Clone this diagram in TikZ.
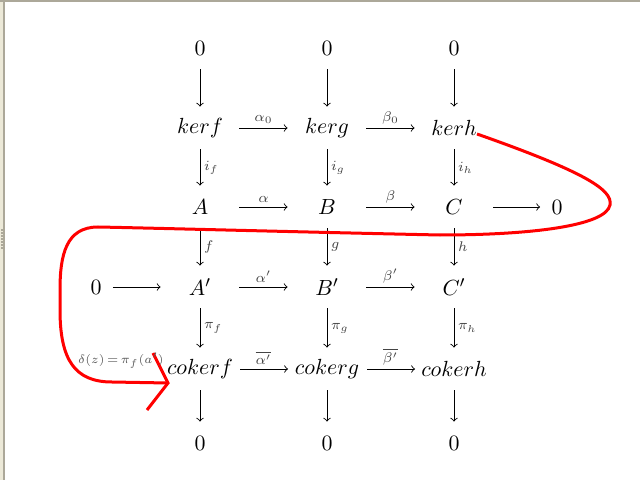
\documentclass[tikz,border=0pt]{standalone}
\definecolor{framebeige}{HTML}{ECE9D8}
\definecolor{framegray}{HTML}{ACA899}
\definecolor{labgray}{HTML}{444444}
\begin{document}
\begin{tikzpicture}[x=0.5pt,y=-0.5pt,
  obj/.style={minimum width=39pt,minimum height=21pt,inner sep=0pt,font=\fontsize{11.3}{13}\selectfont},
  zero/.style={obj,minimum width=16.5pt},
  map/.style={->,line width=0.45pt},
  cmap/.style={map,shorten <=20pt,shorten >=19.5pt},
  lab/.style={font=\scriptsize,text=labgray,inner sep=1.8pt},
  deltapath/.style={draw=red,line width=1.5pt,line join=miter},
  deltalab/.style={font=\fontsize{6.2}{7}\selectfont,text=black!65,inner sep=0pt}
]
\fill[white] (0,0) rectangle (640,480);
\useasboundingbox (0,0) rectangle (640,480);
% window frame
\fill[framebeige] (0,0) rectangle (3,480);
\fill[framegray] (3,0) rectangle (4.5,480);
\fill[framegray] (0,0) rectangle (640,2);
\foreach \yy in {229,232,...,249} \fill[framegray] (0.8,\yy) rectangle (2.6,\yy+1.6);

% row 0
\node[obj] (t1) at (200,48) {$0$};
\node[obj] (t2) at (327,48) {$0$};
\node[obj] (t3) at (454,48) {$0$};
% row 1
\node[obj] (kf) at (200,128) {$kerf$};
\node[obj] (kg) at (327,128) {$kerg$};
\node[obj] (kh) at (454,128) {$kerh$};
% row 2
\node[obj] (A) at (200,207) {$A$};
\node[obj] (B) at (327,207) {$B$};
\node[obj] (C) at (454,207) {$C$};
\node[zero] (zr) at (557,207) {$0$};
% row 3
\node[zero] (zl) at (96,287) {$0$};
\node[obj] (Ap) at (200,287) {$A'$};
\node[obj] (Bp) at (327,287) {$B'$};
\node[obj] (Cp) at (454,287) {$C'$};
% row 4
\node[obj] (cf) at (200,369) {$cokerf$};
\node[obj] (cg) at (327,369) {$cokerg$};
\node[obj] (ch) at (454,369) {$cokerh$};
% row 5
\node[obj] (b1) at (200,443) {$0$};
\node[obj] (b2) at (327,443) {$0$};
\node[obj] (b3) at (454,443) {$0$};

% vertical maps
\draw[map] (t1) -- (kf);
\draw[map] (t2) -- (kg);
\draw[map] (t3) -- (kh);
\draw[map] (kf) -- node[lab,right]{$i_f$} (A);
\draw[map] (kg) -- node[lab,right]{$i_g$} (B);
\draw[map] (kh) -- node[lab,right]{$i_h$} (C);
\draw[map] (A) -- node[lab,right]{$f$} (Ap);
\draw[map] (B) -- node[lab,right]{$g$} (Bp);
\draw[map] (C) -- node[lab,right]{$h$} (Cp);
\draw[map] (Ap) -- node[lab,right]{$\pi_f$} (cf);
\draw[map] (Bp) -- node[lab,right]{$\pi_g$} (cg);
\draw[map] (Cp) -- node[lab,right]{$\pi_h$} (ch);
\draw[map] (cf) -- (b1);
\draw[map] (cg) -- (b2);
\draw[map] (ch) -- (b3);

% horizontal maps
\draw[map] (kf) -- node[lab,above]{$\alpha_0$} (kg);
\draw[map] (kg) -- node[lab,above]{$\beta_0$} (kh);
\draw[map] (A) -- node[lab,above]{$\alpha$} (B);
\draw[map] (B) -- node[lab,above]{$\beta$} (C);
\draw[map] (C) -- (zr);
\draw[map] (zl) -- (Ap);
\draw[map] (Ap) -- node[lab,above]{$\alpha'$} (Bp);
\draw[map] (Bp) -- node[lab,above]{$\beta'$} (Cp);
\draw[cmap] (cf.center) -- node[lab,above]{$\overline{\alpha'}$} (cg.center);
\draw[cmap] (cg.center) -- node[lab,above]{$\overline{\beta'}$} (ch.center);

% connecting homomorphism
\coordinate (ds) at (477,134);
\coordinate (tip) at (168,383);
\coordinate (armA) at (153,353);
\coordinate (armB) at (147,410);
\draw[deltapath] (ds) .. controls (585,172) and (613,190) .. (610,205)
  .. controls (606,226) and (530,235) .. (440,235)
  .. controls (300,232) and (150,228) .. (98,227)
  .. controls (66,227) and (60,255) .. (60,290) -- (60,310)
  .. controls (60,360) and (75,382) .. (112,382) -- (tip);
\draw[deltapath] (armA) -- (tip) -- (armB);
\node[deltalab] (dl) at (121,361) {$\delta(z)\,{=}\,\pi_f(a')$};
\end{tikzpicture}
\end{document}
